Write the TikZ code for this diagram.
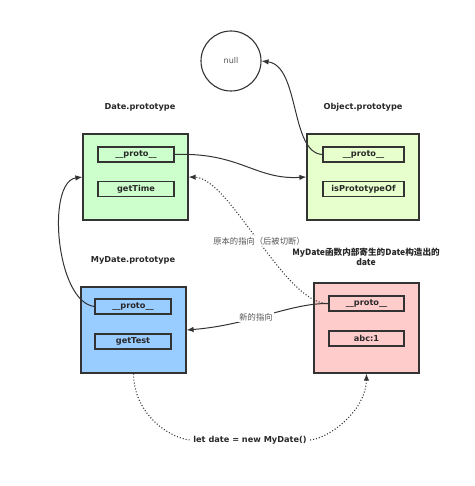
\documentclass[tikz,border=0pt]{standalone}
\usepackage{fontspec}
\setmainfont{DejaVu Sans}
\newfontfamily\cjk{Noto Sans CJK SC}
\usetikzlibrary{arrows.meta}
\definecolor{dgreen}{RGB}{204,255,204}
\definecolor{ogreen}{RGB}{230,255,204}
\definecolor{mblue}{RGB}{153,204,255}
\definecolor{dpink}{RGB}{255,204,204}
\definecolor{edge}{RGB}{51,51,51}
\definecolor{txt}{RGB}{40,40,40}
\definecolor{gtxt}{RGB}{85,85,85}
\tikzset{
  outer/.style={draw=edge, line width=1.2pt, minimum width=#1, inner sep=0pt},
  inner/.style={draw=edge, line width=1.1pt, minimum width=#1, minimum height=15pt, inner sep=0pt,
    font=\fontsize{8.2}{9}\selectfont\bfseries, text=txt},
  title/.style={font=\fontsize{8.2}{9}\selectfont\bfseries, text=txt, align=center},
  cn/.style={font=\cjk\fontsize{8.3}{10}\selectfont, text=gtxt, fill=white, inner sep=1pt},
  conn/.style={draw=edge, line width=1pt, -{Latex[length=7pt,width=5.5pt]}},
  dconn/.style={conn, dotted, line width=1.1pt},
}
\begin{document}
\begin{tikzpicture}[x=1pt,y=-1pt]
\useasboundingbox (0,0) rectangle (474,486);
% null
\node[draw=edge, line width=1.1pt, circle, minimum size=60pt, inner sep=0pt,
  font=\fontsize{8}{9}\selectfont, text=gtxt] (null) at (231,61) {null};
% Date.prototype
\node[title] (dt) at (140,107) {Date.prototype};
\node[outer=105pt, minimum height=86pt, fill=dgreen] (db) at (135.5,177) {};
\node[inner=76pt] (dp) at (136,154.5) {\_\_proto\_\_};
\node[inner=76pt] (dg) at (136,189) {getTime};
% Object.prototype
\node[title] (ot) at (363,107) {Object.prototype};
\node[outer=112pt, minimum height=86pt, fill=ogreen] (ob) at (363,177) {};
\node[inner=81pt] (op) at (363.5,154.5) {\_\_proto\_\_};
\node[inner=81pt] (oi) at (363.5,189) {isPrototypeOf};
% MyDate.prototype
\node[title] (mt) at (133,260) {MyDate.prototype};
\node[outer=105pt, minimum height=86pt, fill=mblue] (mb) at (133.5,330) {};
\node[inner=76pt] (mp) at (133,306.5) {\_\_proto\_\_};
\node[inner=76pt] (mg) at (133,341.5) {getTest};
% date
\node[title, font=\cjk\fontsize{8.6}{10}\selectfont\bfseries] (pt) at (366,257) {MyDate函数内部寄生的Date构造出的\\date};
\node[outer=105pt, minimum height=90pt, fill=dpink] (pb) at (366.5,328) {};
\node[inner=75pt] (pp) at (366.5,303.5) {\_\_proto\_\_};
\node[inner=75pt] (pa) at (366.5,338.5) {abc:1};
% connectors
\draw[conn] (dp.east) .. controls (240,152) and (255,180) .. (ob.west);
\draw[conn] (op.west) .. controls (290,153) and (300,66) .. (null.east);
\draw[conn] (mp.west) .. controls (56,302) and (46,182) .. (db.west);
\draw[dconn] (pp.west) .. controls (285,305) and (230,178) .. (db.east);
\node[cn] (l1) at (259,241) {原本的指向（后被切断）};
\draw[conn] (pp.west) .. controls (290,303) and (250,325) .. (mb.east);
\node[cn] (l2) at (256,317) {新的指向};
\node[title] (lt) at (250,440) {let date = new MyDate()};
\draw[dconn, -] (mb.south) .. controls (134,415) and (170,438) .. (lt.west);
\draw[dconn] (lt.east) .. controls (330,438) and (366,410) .. (pb.south);
\end{tikzpicture}
\end{document}
